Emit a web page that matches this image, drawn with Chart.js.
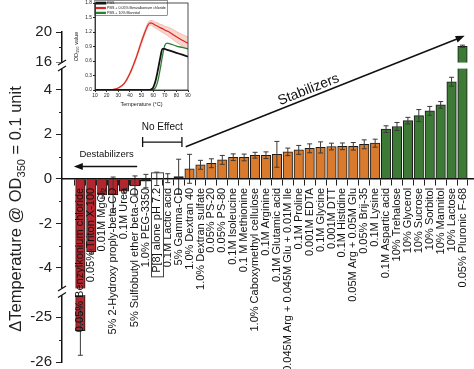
<!DOCTYPE html>
<html>
<head>
<meta charset="utf-8">
<script src="https://cdn.jsdelivr.net/npm/chart.js@4.4.1/dist/chart.umd.min.js"></script>
<style>
  html, body { margin: 0; padding: 0; background: #fff; }
  #wrap { position: relative; width: 474px; height: 369px; overflow: hidden; }
  #main { position: absolute; left: 0; top: 0; }
  #inset { position: absolute; left: 70px; top: 0; }
</style>
</head>
<body>
<div id="wrap">
  <canvas id="main" width="474" height="369"></canvas>
  <canvas id="inset" width="124" height="110"></canvas>
</div>
<script>
const FONT = '"Liberation Sans", Arial, sans-serif';

// ---- main bar chart data ----
const categories = [
  '0.05% Benzylkonium chloride', '0.05% Triton X-100', '0.01M MgCl₂', '5% 2-Hydroxy proply-beta-CD',
  '0.1M Urea', '5% Sulfobutyl ether beta-CD', '1.0% PEG-3350', 'P[8] alone pH 7.2', '0.1M Lactic acid',
  '5% Gamma-CD', '1.0% Dextran 40', '1.0% Dextran sulfate', '0.05% PS-20', '0.05% PS-80',
  '0.1M Isoleucine', '0.1 M Methionine', '1.0% Caboxymethyl cellulose', '0.1M Arginine',
  '0.1M Glutamic acid', '0.045M Arg + 0.045M Glu + 0.01M Ile', '0.1M Proline', '0.001M EDTA',
  '0.1M Glycine', '0.001M DTT', '0.1M Histidine', '0.05M Arg + 0.05M Glu', '0.05% Brij-35',
  '0.1M Lysine', '0.1M Aspartic acid', '10% Trehalose', '10% Glycerol', '10% Sucrose',
  '10% Sorbitol', '10% Mannitol', '10% Lactose', '0.05% Pluronic F-68'
];
const deltaT = [
  -25.3, -3.27, -0.72, -0.72, -0.55, -0.32, -0.1, 0, 0.03, 0.1,
  0.45, 0.63, 0.7, 0.85, 0.97, 0.96, 1.06, 1.06, 1.1, 1.21,
  1.3, 1.37, 1.41, 1.45, 1.46, 1.46, 1.55, 1.6,
  2.23, 2.35, 2.61, 2.84, 3.05, 3.32, 4.36, 18.1
];
const deltaErr = [
  0.55, 0.1, 0.15, 0.8, 0.1, 0.45, 0.3, 0.3, 0.2, 0.78,
  0.65, 0.2, 0.2, 0.2, 0.15, 0.15, 0.13, 0.15, 0.58, 0.17,
  0.2, 0.2, 0.25, 0.15, 0.15, 0.17, 0.2, 0.18,
  0.15, 0.18, 0.15, 0.27, 0.2, 0.15, 0.2, 0.15
];
const effect = [
  'destab', 'destab', 'destab', 'destab', 'destab', 'destab', 'none', 'control', 'none', 'none',
  'stab', 'stab', 'stab', 'stab', 'stab', 'stab', 'stab', 'stab', 'stab', 'stab',
  'stab', 'stab', 'stab', 'stab', 'stab', 'stab', 'stab', 'stab',
  'strong', 'strong', 'strong', 'strong', 'strong', 'strong', 'strong', 'strong'
];
const yTicks = [-26, -25, -4, -2, 0, 2, 4, 16, 20];
const yMinor = [-25.5, -3, -1, 1, 3, 18];

// ---- inset data ----
const insetTemps = [10, 15, 20, 25, 30, 35, 40, 45, 50, 53, 56, 58, 60, 62, 64, 66, 68, 70, 72, 75, 80, 85, 90];
const odPBS      = [0, 0, 0, 0, 0, 0, 0, 0, 0, 0, 0, 0.01, 0.05, 0.18, 0.4, 0.65, 0.85, 0.85, 0.83, 0.81, 0.77, 0.73, 0.69];
const odBenz     = [0, 0, 0, 0.01, 0.04, 0.13, 0.34, 0.64, 1.0, 1.2, 1.36, 1.39, 1.37, 1.34, 1.32, 1.29, 1.27, 1.24, 1.22, 1.18, 1.1, 1.03, 0.97];
const odBenzErr  = [0, 0, 0, 0, 0.01, 0.02, 0.03, 0.04, 0.05, 0.05, 0.05, 0.05, 0.06, 0.06, 0.07, 0.07, 0.08, 0.08, 0.09, 0.1, 0.11, 0.12, 0.13];
const odMannitol = [0, 0, 0, 0, 0, 0, 0, 0, 0, 0, 0, 0, 0.01, 0.05, 0.18, 0.42, 0.7, 0.92, 0.97, 0.95, 0.91, 0.88, 0.85];
const insetYTicks = [0, 0.3, 0.6, 0.9, 1.2, 1.5, 1.8];

// broken y axis: values mapped onto one linear axis (main segment keeps its units)
const brk = v => v >= 15 ? 5.245 + (v - 16) * 0.337 : (v <= -24 ? -6.216 + (v + 25) * 2.009 : v);
const gaps = [[4.95, 5.22], [-5.22, -4.92]];

const fillFor = { destab: '#b3262e', none: '#141414', control: 'rgba(0,0,0,0)', stab: '#d97a2c', strong: '#3d7a35' };

const mainDecor = {
  id: 'mainDecor',
  afterDatasetsDraw(chart) {
    const { ctx, scales: { x, y } } = chart;
    const Y = v => y.getPixelForValue(brk(v));
    ctx.save();
    // error bars
    ctx.strokeStyle = '#3a3a3a';
    ctx.lineWidth = 1;
    deltaT.forEach((v, i) => {
      const px = x.getPixelForValue(i);
      const t = Y(v + deltaErr[i]), b = Y(v - deltaErr[i]);
      ctx.beginPath();
      ctx.moveTo(px, t); ctx.lineTo(px, b);
      ctx.moveTo(px - 2.5, t); ctx.lineTo(px + 2.5, t);
      ctx.moveTo(px - 2.5, b); ctx.lineTo(px + 2.5, b);
      ctx.stroke();
    });
    // minor ticks
    ctx.strokeStyle = '#222';
    yMinor.forEach(v => {
      const py = Math.round(Y(v)) + 0.5;
      ctx.beginPath(); ctx.moveTo(x.left - 3, py); ctx.lineTo(x.left, py); ctx.stroke();
    });
    // axis breaks
    ctx.fillStyle = '#fff';
    gaps.forEach(([lo, hi]) => {
      const y1 = y.getPixelForValue(hi), y2 = y.getPixelForValue(lo);
      ctx.fillRect(x.left - 8, y1, x.right - x.left + 8, y2 - y1);
      ctx.strokeStyle = '#111';
      ctx.lineWidth = 1.2;
      [y1, y2].forEach(yy => {
        ctx.beginPath(); ctx.moveTo(x.left - 4, yy + 2.5); ctx.lineTo(x.left + 4, yy - 2.5); ctx.stroke();
      });
    });
    ctx.restore();
  },
  afterDraw(chart) {
    const { ctx, scales: { x, y } } = chart;
    const Y = v => y.getPixelForValue(v);
    ctx.save();
    ctx.fillStyle = '#111';
    ctx.strokeStyle = '#111';
    const arrow = (x1, y1, x2, y2) => {
      const a = Math.atan2(y2 - y1, x2 - x1);
      ctx.lineWidth = 1.5;
      ctx.beginPath(); ctx.moveTo(x1, y1); ctx.lineTo(x2 - 7 * Math.cos(a), y2 - 7 * Math.sin(a)); ctx.stroke();
      ctx.beginPath();
      ctx.moveTo(x2, y2);
      ctx.lineTo(x2 - 9 * Math.cos(a) + 3.5 * Math.sin(a), y2 - 9 * Math.sin(a) - 3.5 * Math.cos(a));
      ctx.lineTo(x2 - 9 * Math.cos(a) - 3.5 * Math.sin(a), y2 - 9 * Math.sin(a) + 3.5 * Math.cos(a));
      ctx.closePath(); ctx.fill();
    };
    // destabilizers
    ctx.font = '9.5px ' + FONT;
    ctx.textAlign = 'center'; ctx.textBaseline = 'middle';
    ctx.fillText('Destabilizers', x.getPixelForValue(2.4), Y(1.08));
    arrow(x.getPixelForValue(5.2), Y(0.55), x.getPixelForValue(-0.6), Y(0.55));
    // no effect
    ctx.font = '10px ' + FONT;
    ctx.fillText('No Effect', x.getPixelForValue(7.5), Y(2.3));
    const bx1 = x.getPixelForValue(5.7), bx2 = x.getPixelForValue(9.3), by = Y(1.65);
    ctx.lineWidth = 1.3;
    ctx.beginPath();
    ctx.moveTo(bx1, by); ctx.lineTo(bx2, by);
    ctx.moveTo(bx1, by - 5); ctx.lineTo(bx1, by + 5);
    ctx.moveTo(bx2, by - 5); ctx.lineTo(bx2, by + 5);
    ctx.stroke();
    // stabilizers
    const sx1 = x.getPixelForValue(9.65), sy1 = Y(1.44), sx2 = x.getPixelForValue(35.2), sy2 = Y(6.42);
    arrow(sx1, sy1, sx2, sy2);
    const ang = Math.atan2(sy2 - sy1, sx2 - sx1);
    ctx.save();
    ctx.translate(x.getPixelForValue(20.9), Y(4.0));
    ctx.rotate(ang);
    ctx.font = '14px ' + FONT;
    ctx.fillText('Stabilizers', 0, 0);
    ctx.restore();
    // control label box
    const cx = x.getPixelForValue(categories.indexOf('P[8] alone pH 7.2'));
    ctx.font = '11px ' + FONT;
    const tw = ctx.measureText('P[8] alone pH 7.2').width;
    const top = Y(0.27), bottom = Y(0) + 6 + 3 + tw + 4;
    ctx.lineWidth = 1;
    ctx.strokeStyle = '#444';
    ctx.strokeRect(Math.round(cx - 6) + 0.5, top, 12, bottom - top);
    // y title with subscript
    const big = '16.5px ' + FONT, small = '11px ' + FONT;
    const parts = [['ΔTemperature @ OD', big, 0], ['350', small, 4], [' = 0.1 unit', big, 0]];
    let total = 0;
    parts.forEach(([t, f]) => { ctx.font = f; total += ctx.measureText(t).width; });
    ctx.translate(21, 209);
    ctx.rotate(-Math.PI / 2);
    ctx.textAlign = 'left'; ctx.textBaseline = 'alphabetic';
    ctx.fillStyle = '#222';
    let xx = -total / 2;
    parts.forEach(([t, f, dy]) => { ctx.font = f; ctx.fillText(t, xx, dy); xx += ctx.measureText(t).width; });
    ctx.restore();
  }
};

new Chart(document.getElementById('main'), {
  type: 'bar',
  data: {
    datasets: [{
      data: deltaT.map((v, i) => ({ x: i, y: brk(v) })),
      backgroundColor: effect.map(e => fillFor[e]),
      borderColor: effect.map(e => e === 'control' ? 'rgba(0,0,0,0)' : '#1a1a1a'),
      borderWidth: 1,
      barThickness: 9.5
    }]
  },
  options: {
    responsive: false,
    animation: false,
    layout: { padding: { top: 32, bottom: 7, left: 0, right: 0 } },
    plugins: { legend: { display: false }, tooltip: { enabled: false } },
    scales: {
      x: {
        type: 'linear', position: { y: 0 }, min: -1.16, max: 35.53,
        afterBuildTicks: a => { a.ticks = categories.map((_, i) => ({ value: i })); },
        afterFit: a => { a.height = 0; a.paddingLeft = 0; a.paddingRight = 0; },
        ticks: {
          z: 1, autoSkip: false, minRotation: 90, maxRotation: 90, padding: 3,
          font: { size: 11, family: FONT }, color: '#111',
          callback: v => categories[v]
        },
        grid: { display: true, drawOnChartArea: false, tickLength: 6, color: '#222' },
        border: { color: '#111', width: 1.5, z: 1 }
      },
      y: {
        type: 'linear', min: brk(-26), max: brk(20),
        afterBuildTicks: a => { a.ticks = yTicks.map(v => ({ value: brk(v) })); },
        afterFit: a => { a.width = 62; a.paddingTop = 0; a.paddingBottom = 0; },
        ticks: { font: { size: 15, family: FONT }, color: '#222', padding: 4, callback: (v, i) => String(yTicks[i]) },
        grid: { display: true, drawOnChartArea: false, tickLength: 6, color: '#222' },
        border: { color: '#111', width: 1.5 }
      }
    }
  },
  plugins: [mainDecor]
});

// ---- inset ----
const pts = arr => insetTemps.map((t, i) => ({ x: t, y: arr[i] }));
const insetBox = {
  id: 'insetBox',
  afterDraw(chart) {
    const { ctx, chartArea: a, legend } = chart;
    ctx.save();
    ctx.strokeStyle = '#222';
    ctx.lineWidth = 0.8;
    ctx.strokeRect(a.left, a.top, a.right - a.left, a.bottom - a.top);
    const hb = legend.legendHitBoxes;
    if (hb && hb.length) {
      const l = Math.min(...hb.map(b => b.left)) - 1.5, t = Math.min(...hb.map(b => b.top)) - 1;
      const r = Math.max(...hb.map(b => b.left + b.width)) + 1.5, btm = Math.max(...hb.map(b => b.top + b.height)) + 1;
      ctx.lineWidth = 0.5;
      ctx.strokeRect(l, t, r - l, btm - t);
    }
    ctx.restore();
  }
};

new Chart(document.getElementById('inset'), {
  type: 'line',
  data: {
    datasets: [
      { label: 'PBS', data: pts(odPBS), borderColor: '#111', backgroundColor: '#111', borderWidth: 1.8 },
      { label: 'PBS + 0.05% Benzalkonium chloride', data: pts(odBenz), borderColor: '#d8271f', backgroundColor: '#d8271f', borderWidth: 1.2 },
      { label: 'PBS + 10% Mannitol', data: pts(odMannitol), borderColor: '#2f7d33', backgroundColor: '#2f7d33', borderWidth: 1.3 },
      { label: 'upper', data: pts(odBenz.map((v, i) => v + odBenzErr[i])), borderColor: 'rgba(215,90,70,0.6)', borderWidth: 0.5, backgroundColor: 'rgba(240,150,130,0.4)', fill: '+1' },
      { label: 'lower', data: pts(odBenz.map((v, i) => v - odBenzErr[i])), borderColor: 'rgba(215,90,70,0.6)', borderWidth: 0.5 }
    ]
  },
  options: {
    responsive: false,
    animation: false,
    layout: { padding: { top: 3, right: 6, left: 0, bottom: 0 } },
    elements: { point: { radius: 0 }, line: { cubicInterpolationMode: 'monotone' } },
    plugins: {
      tooltip: { enabled: false },
      legend: {
        position: 'chartArea', align: 'start',
        labels: {
          font: { size: 3.6, family: FONT }, color: '#111', boxWidth: 9, boxHeight: 1, padding: 1.3,
          filter: item => item.datasetIndex < 3
        }
      }
    },
    scales: {
      x: {
        type: 'linear', min: 10, max: 90,
        afterFit: a => { a.height = 20; a.paddingLeft = 0; a.paddingRight = 0; },
        ticks: { stepSize: 10, font: { size: 4.8, family: FONT }, color: '#222', padding: 1, maxRotation: 0 },
        grid: { drawOnChartArea: false, tickLength: 2, color: '#222' },
        border: { color: '#222', width: 0.8 },
        title: { display: true, text: 'Temperature (°C)', font: { size: 5.5, family: FONT }, color: '#222', padding: { top: 1, bottom: 2 } }
      },
      y: {
        type: 'linear', min: 0, max: 1.8,
        afterBuildTicks: a => { a.ticks = insetYTicks.map(v => ({ value: v })); },
        afterFit: a => { a.width = 25; a.paddingTop = 0; a.paddingBottom = 0; },
        ticks: { font: { size: 4.8, family: FONT }, color: '#222', padding: 1, callback: v => v.toFixed(1) },
        grid: { drawOnChartArea: false, tickLength: 2, color: '#222' },
        border: { color: '#222', width: 0.8 },
        title: { display: true, text: 'OD₃₅₀ value', font: { size: 5.5, family: FONT }, color: '#222', padding: { top: 3, bottom: 1 } }
      }
    }
  },
  plugins: [insetBox]
});
</script>
</body>
</html>
